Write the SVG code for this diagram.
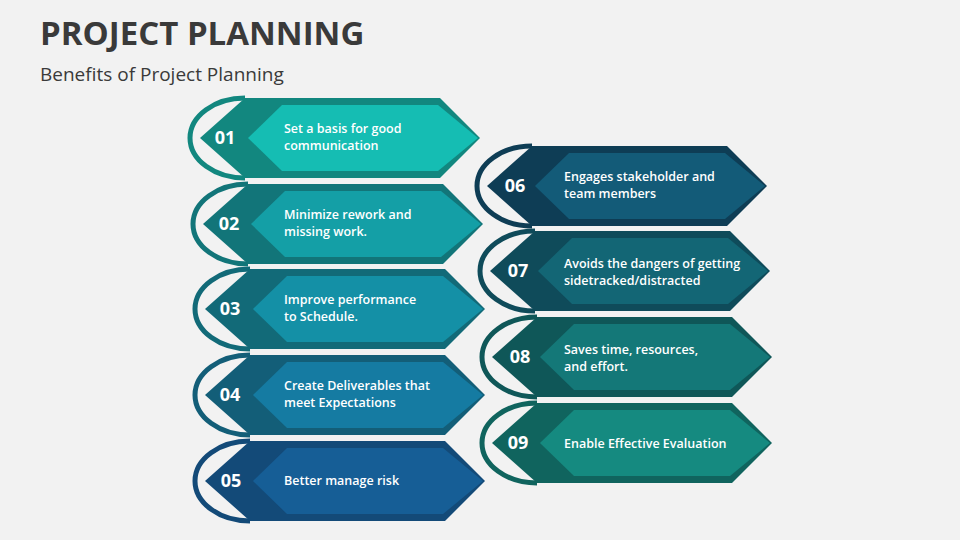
<svg xmlns="http://www.w3.org/2000/svg" width="960" height="540" viewBox="0 0 960 540">
<style>
text{font-family:"Open Sans","Liberation Sans",sans-serif}
.t{fill:#fff;font-size:12.5px;font-weight:600}
.n{fill:#fff;font-size:18px;font-weight:700;text-anchor:middle}
.ring{fill:none;stroke-width:5}
</style>
<defs>
<polygon id="dk" points="0,0 45,-40 240,-40 280,0 240,40 45,40"/>
<polygon id="lt" points="48,0 82,-33 238,-33 278,0 238,33 82,33"/>
<path id="rg" d="M45,-40 A55,40 0 0 0 45,40"/>
</defs>
<rect width="960" height="540" fill="#f2f2f2"/>
<text x="40" y="45" font-family="Liberation Sans" font-size="33" font-weight="700" fill="#3a3a3a" style="font-family:'Open Sans','Liberation Sans',sans-serif">PROJECT PLANNING</text>
<text x="40" y="81" font-size="19" fill="#3a3a3a">Benefits of Project Planning</text>
<g id="connectors"/>
<g id="n1" transform="translate(200,138)"><use href="#rg" class="ring" stroke="#12877F"/><use href="#dk" fill="#12877F"/><use href="#lt" fill="#15BDB3"/><text class="n" x="25" y="6">01</text><text class="t" x="84" y="-5">Set a basis for good</text><text class="t" x="84" y="12">communication</text></g>
<g id="n2" transform="translate(203,224)"><use href="#rg" class="ring" stroke="#127579"/><use href="#dk" fill="#127579"/><use href="#lt" fill="#149FA6"/><text class="n" x="26" y="6">02</text><text class="t" x="81" y="-5">Minimize rework and</text><text class="t" x="81" y="12">missing work.</text></g>
<g id="n3" transform="translate(205,309)"><use href="#rg" class="ring" stroke="#126A78"/><use href="#dk" fill="#126A78"/><use href="#lt" fill="#1490A6"/><text class="n" x="25" y="6">03</text><text class="t" x="79" y="-5">Improve performance</text><text class="t" x="79" y="12">to Schedule.</text></g>
<g id="n4" transform="translate(205,395)"><use href="#rg" class="ring" stroke="#135E78"/><use href="#dk" fill="#135E78"/><use href="#lt" fill="#157BA2"/><text class="n" x="25" y="6">04</text><text class="t" x="79" y="-5">Create Deliverables that</text><text class="t" x="79" y="12">meet Expectations</text></g>
<g id="n5" transform="translate(205,481)"><use href="#rg" class="ring" stroke="#134A78"/><use href="#dk" fill="#134A78"/><use href="#lt" fill="#165E96"/><text class="n" x="26" y="6">05</text><text class="t" x="79" y="4">Better manage risk</text></g>
<g id="n6" transform="translate(487,186)"><use href="#rg" class="ring" stroke="#0E3D55"/><use href="#dk" fill="#0E3D55"/><use href="#lt" fill="#135B78"/><text class="n" x="28" y="6">06</text><text class="t" x="77" y="-5">Engages stakeholder and</text><text class="t" x="77" y="12">team members</text></g>
<g id="n7" transform="translate(490,271)"><use href="#rg" class="ring" stroke="#0F4B5A"/><use href="#dk" fill="#0F4B5A"/><use href="#lt" fill="#136675"/><text class="n" x="28" y="6">07</text><text class="t" x="74" y="-3">Avoids the dangers of getting</text><text class="t" x="74" y="14">sidetracked/distracted</text></g>
<g id="n8" transform="translate(492,357)"><use href="#rg" class="ring" stroke="#0F5758"/><use href="#dk" fill="#0F5758"/><use href="#lt" fill="#147878"/><text class="n" x="28" y="6">08</text><text class="t" x="72" y="-3">Saves time, resources,</text><text class="t" x="72" y="14">and effort.</text></g>
<g id="n9" transform="translate(492,443)"><use href="#rg" class="ring" stroke="#10645E"/><use href="#dk" fill="#10645E"/><use href="#lt" fill="#158A80"/><text class="n" x="26" y="6">09</text><text class="t" x="72" y="5">Enable Effective Evaluation</text></g>
</svg>
